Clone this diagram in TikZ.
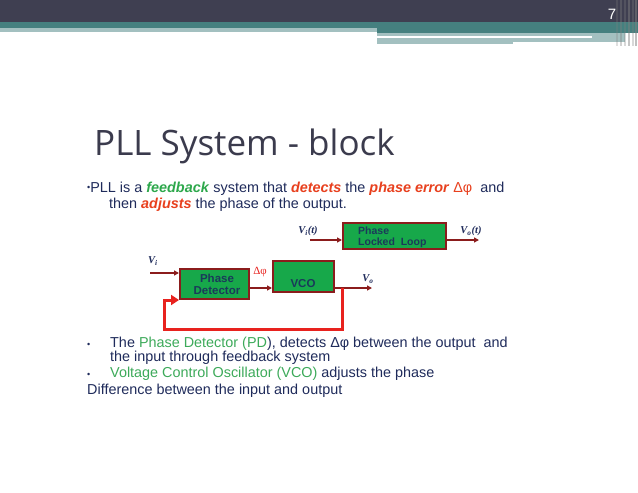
\documentclass[tikz,border=0pt]{standalone}
\usepackage{fontspec}
\setmainfont{Liberation Sans}
\newfontfamily\titlefont{Open Sans}
\newfontfamily\seriffont{Liberation Serif}
\usetikzlibrary{arrows.meta}
\definecolor{hdr}{HTML}{3F3F51}
\definecolor{teal1}{HTML}{45807F}
\definecolor{lteal}{HTML}{A3C0C0}
\definecolor{navy}{HTML}{1F2B5B}
\definecolor{titlecol}{HTML}{3B3B4D}
\definecolor{gword}{HTML}{2EA84C}
\definecolor{rword}{HTML}{E8401E}
\definecolor{gline}{HTML}{3DAA5A}
\definecolor{boxg}{HTML}{17A84A}
\definecolor{boxr}{HTML}{8B1C1C}
\definecolor{fbred}{HTML}{E8221E}
\definecolor{boxtext}{HTML}{1A3A5A}
\begin{document}
\begin{tikzpicture}[x=1pt,y=-1pt,
  txt/.style={anchor=base west,inner sep=0pt,text=navy,font=\fontsize{14.4}{16}\selectfont},
  blk/.style={draw=boxr,line width=1.8pt,fill=boxg,inner sep=0pt,anchor=north west},
  btxt/.style={inner sep=0pt,text=boxtext,font=\bfseries\fontsize{10.5}{12}\selectfont},
  sig/.style={draw=boxr,line width=1.3pt,-{Triangle[length=5pt,width=5pt]}},
  lab/.style={inner sep=0pt,text=navy,font=\seriffont\bfseries\itshape\fontsize{10.5}{12}\selectfont}]
\useasboundingbox (0,0) rectangle (638,493);
% header
\fill[white] (0,0) rectangle (638,493);
\fill[hdr] (0,0) rectangle (638,22);
\fill[teal1] (0,22) rectangle (638,28);
\fill[lteal] (0,28) rectangle (377,31.5);
\fill[teal1] (377,28) rectangle (638,33);
\fill[lteal] (377,33) rectangle (625,44);
\fill[white] (377,35.5) rectangle (592,37.5);
\fill[white] (513,41.5) rectangle (625,44);
\foreach \xx/\op in {616/0.25,620/0.35,624/0.3,628/0.45,632/0.3,635/0.5}
  \fill[gray,opacity=\op] (\xx,0) rectangle ++(1.5,46);
\node[inner sep=0pt,text=white,font=\fontsize{15}{18}\selectfont] (pnum) at (612,14) {7};
% title
\node[anchor=base west,inner sep=0pt,text=titlecol,font=\titlefont\fontsize{35}{40}\selectfont] (title) at (94,155) {PLL System - block};
% body
\node[txt] (b1) at (87,192) {\fontsize{9}{10}\selectfont\raisebox{1.5pt}{\textbullet}\fontsize{14.4}{16}\selectfont PLL is a \textcolor{gword}{\textbf{\textit{feedback}}} system that \textcolor{rword}{\textbf{\textit{detects}}} the \textcolor{rword}{\textbf{\textit{phase error}} Δφ}\ \ and};
\node[txt] (b2) at (109,208) {then \textcolor{rword}{\textbf{\textit{adjusts}}} the phase of the output.};
% PLL block
\node[blk,minimum width=103pt,minimum height=26pt] (pll) at (342,222) {};
\node[btxt,anchor=base west] (pllt1) at (358,234) {Phase};
\node[btxt,anchor=base west] (pllt2) at (358,245.5) {Locked\ \ Loop};
\coordinate (pin) at (310,240);
\coordinate (pout) at (479,240);
\draw[sig] (pin) -- (pin -| pll.west);
\draw[sig] (pin -| pll.east) -- (pout);
\node[lab] (vit) at (308,231) {V\textsubscript{i}(t)};
\node[lab] (vot) at (471,231) {V\textsubscript{o}(t)};
% PD and VCO
\node[blk,minimum width=69pt,minimum height=30pt] (pd) at (179,268) {};
\node[btxt,font=\bfseries\fontsize{11.5}{13}\selectfont] (pdt1) at (217,278) {Phase};
\node[btxt,font=\bfseries\fontsize{11.5}{13}\selectfont] (pdt2) at (217,291) {Detector};
\node[blk,minimum width=61pt,minimum height=31pt] (vco) at (272,260) {};
\node[btxt,font=\bfseries\fontsize{11.5}{13}\selectfont] (vcot) at (303,284) {VCO};
\coordinate (vin) at (150,273);
\coordinate (vout) at (372,288);
\coordinate (tap) at (342,288);
\draw[sig] (vin) -- (vin -| pd.west);
\draw[sig] (pd.east |- 0,288) -- (vco.west |- 0,288);
\draw[sig] (vco.east |- vout) -- (vout);
\node[lab] (vil) at (153,261) {V\textsubscript{i}};
\node[lab] (vol) at (368,279) {V\textsubscript{o}};
\node[inner sep=0pt,text=fbred,font=\seriffont\fontsize{11}{12}\selectfont] (dphi) at (260,272) {Δφ};
\draw[fbred,line width=3pt,-{Triangle[length=8pt,width=10pt]}] (tap) -- (342,329) -- (164,329) -- (164,300) -- (pd.south west |- 0,300);
% bottom text
\node[txt] (c0) at (87,347) {\fontsize{9}{10}\selectfont\textbullet};
\node[txt] (c1) at (110,347) {The \textcolor{gline}{Phase Detector (PD}), detects Δφ between the output\ \ and};
\node[txt] (c2) at (110,361) {the input through feedback system};
\node[txt] (c3) at (87,377) {\fontsize{9}{10}\selectfont\textbullet};
\node[txt] (c4) at (110,377) {\textcolor{gline}{Voltage Control Oscillator (VCO)} adjusts the phase};
\node[txt] (c5) at (87,394) {Difference between the input and output};
\end{tikzpicture}
\end{document}
